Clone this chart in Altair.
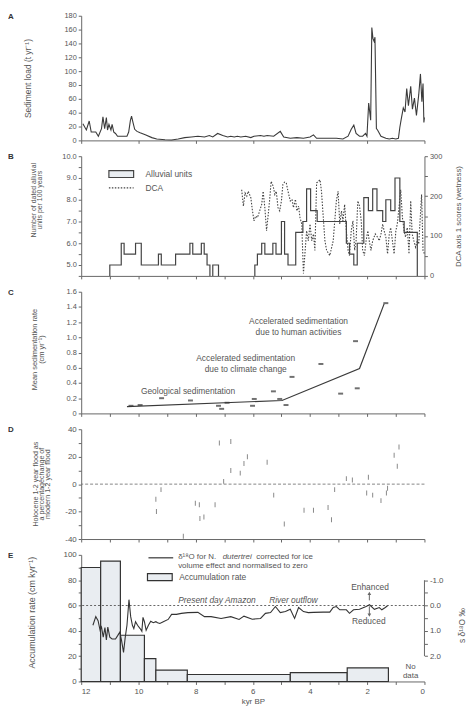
import altair as alt
import pandas as pd

# ---------------- Panel A: sediment load (t/yr) ----------------
sed_kyr = [11.94, 11.82, 11.72, 11.65, 11.49, 11.40, 11.29, 11.24, 11.18, 11.12,
           11.08, 11.03, 10.96, 10.92, 10.86, 10.80, 10.73, 10.57, 10.40, 10.34,
           10.28, 10.24, 10.19, 10.13, 10.05, 9.94, 9.76, 9.53, 9.36, 9.07,
           8.84, 8.61, 8.38, 8.15, 7.92, 7.69, 7.52, 7.40, 7.23, 7.05,
           6.88, 6.77, 6.65, 6.54, 6.42, 6.25, 6.07, 5.96, 5.73, 5.61,
           5.50, 5.27, 5.04, 4.92, 4.69, 4.46, 4.23, 4.00, 3.88, 3.77,
           3.54, 3.31, 3.08, 2.85, 2.67, 2.56, 2.47, 2.39, 2.27, 2.16,
           2.06, 2.01, 1.95, 1.88, 1.84, 1.80, 1.76, 1.73, 1.68, 1.64,
           1.52, 1.35, 1.23, 1.12, 1.00, 0.91, 0.86, 0.81, 0.74, 0.68,
           0.62, 0.56, 0.48, 0.42, 0.35, 0.28, 0.20, 0.14, 0.09, 0.05,
           0.02, 0.00]
sed_load = [24, 15, 28, 12, 12, 6, 17, 34, 17, 33,
            15, 23, 15, 23, 12, 10, 6, 6, 6, 12,
            29, 35, 26, 16, 13, 11, 8, 4, 2, 1,
            0.5, 2, 4, 5, 6, 5, 7, 5, 10, 7,
            5, 6, 5, 6, 5, 6, 4, 6, 7, 6,
            7, 6, 13, 5, 3, 4, 3, 5, 8, 3,
            3, 3, 3, 2, 6, 16, 22, 10, 6, 6,
            10, 6, 54, 29, 163, 147, 143, 149, 17, 15,
            6, 3, 2, 3, 2, 3, 19, 31, 47, 41,
            75, 50, 78, 45, 61, 36, 66, 96, 56, 82,
            26, 33]

# ---------------- Panel B: alluvial units per 100 yr (step blocks) + DCA ----------------
alluvial_edges = [
    [11.0, 10.6, 10.5, 10.1, 9.9, 9.3, 9.2, 8.7, 8.2, 8.1, 7.8, 7.7, 7.6, 7.5],
    [7.4, 7.2],
    [5.93, 5.84, 5.69, 5.58, 5.30, 5.19, 5.00, 4.89, 4.77, 4.50,
     4.25, 4.12, 3.98, 3.75, 2.73, 2.62, 2.47, 2.35, 2.12, 1.96,
     1.81, 1.66, 1.46, 1.35, 1.18, 1.03, 0.86, 0.71, 0.25],
]
alluvial_values = [
    [5.0, 6.0, 5.5, 6.0, 5.0, 5.5, 5.0, 5.5, 6.0, 5.5, 6.0, 5.5, 5.0],
    [5.0],
    [5.0, 5.5, 6.0, 5.5, 6.0, 5.5, 7.0, 5.5, 5.0, 6.5,
     7.0, 8.5, 7.5, 7.0, 6.0, 5.5, 5.0, 6.0, 8.1, 7.5,
     8.5, 7.5, 7.0, 8.0, 7.5, 9.0, 7.0, 6.5],
]
alluvial_base = 4.5

dca_kyr = [6.39, 6.33, 6.27, 6.21, 6.16, 6.07, 6.02, 5.96, 5.90, 5.84,
           5.76, 5.69, 5.64, 5.58, 5.52, 5.46, 5.41, 5.36, 5.29, 5.23,
           5.18, 5.12, 5.06, 5.00, 4.95, 4.89, 4.83, 4.77, 4.69, 4.63,
           4.58, 4.51, 4.46, 4.40, 4.35, 4.29, 4.23, 4.17, 4.12, 4.06,
           4.00, 3.94, 3.88, 3.83, 3.77, 3.71, 3.65, 3.60, 3.54, 3.48,
           3.42, 3.31, 3.19, 3.08, 3.02, 2.96, 2.90, 2.85, 2.79, 2.73,
           2.67, 2.62, 2.56, 2.50, 2.44, 2.39, 2.33, 2.27, 2.21, 2.16,
           2.10, 2.04, 1.98, 1.93, 1.87, 1.81, 1.72, 1.64, 1.58, 1.52,
           1.46, 1.41, 1.35, 1.29, 1.23, 1.18, 1.12, 1.06, 1.00, 0.95,
           0.89, 0.83, 0.77, 0.71, 0.66, 0.60, 0.54, 0.48, 0.43, 0.37,
           0.31, 0.25, 0.20, 0.10, 0.05, 0.00]
dca_score = [216, 175, 208, 200, 212, 196, 167, 138, 150, 146,
             163, 179, 212, 171, 113, 155, 192, 237, 225, 204,
             212, 171, 163, 188, 229, 235, 233, 212, 188, 192,
             171, 192, 163, 175, 146, 130, 6, 64, 113, 88,
             130, 88, 105, 64, 233, 237, 241, 212, 150, 88,
             64, 51, 88, 188, 212, 130, 163, 138, 179, 113,
             64, 51, 113, 138, 64, 88, 188, 175, 138, 64,
             51, 88, 113, 88, 64, 88, 105, 97, 88, 105,
             130, 113, 97, 55, 105, 121, 88, 55, 113, 130,
             171, 216, 146, 113, 97, 121, 55, 188, 105, 88,
             72, 88, 80, 204, 64, 55]

# ---------------- Panel C: mean sedimentation rate ----------------
trend_kyr = [10.40, 4.98, 2.27, 1.41]
trend_rate = [0.09, 0.17, 0.59, 1.44]
site_kyr = [10.26, 9.94, 9.19, 8.18, 7.20, 7.09, 6.90, 6.01, 5.95, 5.28,
            5.06, 4.84, 4.63, 3.62, 2.93, 2.41, 2.35, 1.35]
site_rate = [0.10, 0.11, 0.20, 0.17, 0.10, 0.06, 0.14, 0.10, 0.19, 0.29,
             0.19, 0.11, 0.48, 0.65, 0.26, 0.95, 0.33, 1.45]

# ---------------- Panel D: flood magnitude change (%) ----------------
flood_kyr = [9.39, 9.37, 9.21, 8.43, 8.01, 7.87, 7.85, 7.71, 7.32, 7.17,
             7.02, 6.77, 6.77, 6.44, 6.31, 6.19, 5.50, 5.27, 4.90, 4.21,
             3.88, 3.37, 3.25, 3.14, 2.73, 2.52, 2.02, 1.96, 1.81, 1.52,
             1.33, 1.29, 1.06, 0.95, 0.89]
flood_pct = [-11, -20, -4, -38, -14, -15, -25, -24, -15, 30,
             2, 10, 31, 8, 15, 20, 16, -8, -29, -19,
             -19, -17, -26, -4, 4, 3, -6.5, 5, -8, -12,
             -6.5, -3, 21, 13, 27]

# ---------------- Panel E: accumulation rate + d18O ----------------
acc_start = [12.0, 11.32, 10.63, 9.79, 9.39, 8.29, 4.69, 2.70]
acc_end = [11.32, 10.63, 9.79, 9.39, 8.29, 4.69, 2.70, 1.26]
acc_rate = [90, 95, 36.5, 18, 9, 5.5, 7, 10.7]

d18_kyr = [11.59, 11.49, 11.41, 11.34, 11.29, 11.23, 11.17, 11.12, 11.07, 11.00,
           10.92, 10.80, 10.72, 10.65, 10.59, 10.52, 10.46, 10.40, 10.33, 10.27,
           10.21, 10.16, 10.10, 10.03, 9.94, 9.88, 9.84, 9.79, 9.73, 9.65,
           9.57, 9.48, 9.39, 9.33, 9.25, 9.13, 8.96, 8.84, 8.67, 8.50,
           8.27, 7.92, 7.69, 7.46, 7.11, 6.77, 6.48, 6.31, 6.02, 5.73,
           5.56, 5.38, 5.21, 5.04, 4.86, 4.69, 4.54, 4.40, 4.23, 4.06,
           3.88, 3.54, 3.31, 3.19, 3.08, 2.96, 2.73, 2.62, 2.48, 2.27,
           2.04, 1.92, 1.75, 1.58, 1.49, 1.37, 1.29]
d18_val = [0.78, 0.44, 0.60, 0.98, 0.85, 1.25, 0.87, 1.36, 0.85, 1.25,
           1.32, 1.32, 1.18, 1.05, 1.38, 1.85, 1.25, 0.78, -0.23, 0.44,
           0.78, 0.91, 0.64, 0.78, 0.91, 1.02, 0.47, 0.64, 0.98, 0.78,
           0.62, 0.68, 0.64, 0.68, 0.71, 0.64, 0.55, 0.35, 0.35, 0.31,
           0.28, 0.27, 0.44, 0.44, 0.51, 0.44, 0.55, 0.42, 0.54, 0.51,
           0.31, 0.28, 0.04, 0.28, 0.24, 0.15, 0.51, 0.08, 0.24, 0.28,
           0.27, 0.26, 0.26, 0.08, 0.04, 0.17, 0.17, 0.31, 0.17, 0.15,
           0.04, -0.03, 0.15, 0.08, 0.17, 0.08, 0.01]

# ======================================================================
FONT = "Liberation Sans"
W = 347
INK = "#3a3a3a"
TXT = "#555555"
FILL = "#e9edf1"
XS = alt.Scale(domain=[0, 12], reverse=True, nice=False, zero=False)
one = pd.DataFrame({"t": [0]})


def note(text, x, y, size=8.5, align="left", color=TXT, style="normal", weight="normal"):
    return alt.Chart(one).mark_text(
        text=text, fontSize=size, align=align, baseline="middle", color=color,
        fontStyle=style, fontWeight=weight, font=FONT
    ).encode(x=alt.value(x), y=alt.value(y))


def letter(t):
    return note(t, -74, 1, size=8, color="#333333", weight="bold")


def xaxis(step, bottom=False):
    vals = list(range(0, 13, step))
    if bottom:
        return alt.Axis(values=vals, title="kyr BP",
                        labelExpr="datum.value % 2 == 0 ? '' + datum.value : ''",
                        labelFontSize=8, titleFontSize=8, labelPadding=3, titlePadding=2)
    return alt.Axis(values=vals, labels=False, title=None)


# ---------------- A ----------------
dfA = pd.DataFrame({"kyr": sed_kyr, "load": sed_load})
axA = alt.Axis(values=list(range(0, 181, 20)), title="Sediment load (t yr⁻¹)",
               titleFontSize=8.5, titleX=-54, titleY=63, titleBaseline="middle")
lineA = alt.Chart(dfA).mark_line(color=INK, strokeWidth=1.1).encode(
    x=alt.X("kyr:Q", scale=XS, axis=xaxis(2)),
    y=alt.Y("load:Q", scale=alt.Scale(domain=[0, 180], nice=False), axis=axA),
)
A = alt.layer(lineA, letter("A")).properties(width=W, height=126)

# ---------------- B ----------------
rows = []
for b, (edges, vals) in enumerate(zip(alluvial_edges, alluvial_values)):
    rows.append({"blk": b, "kyr": edges[0], "n": alluvial_base})
    for k, v in enumerate(vals):
        rows.append({"blk": b, "kyr": edges[k], "n": v})
        rows.append({"blk": b, "kyr": edges[k + 1], "n": v})
    rows.append({"blk": b, "kyr": edges[-1], "n": alluvial_base})
dfB = pd.DataFrame(rows)
dfB["o"] = range(len(dfB))

YB = alt.Scale(domain=[4.5, 10], nice=False, zero=False)
axB = alt.Axis(values=[4.5 + 0.5 * i for i in range(12)],
               labelExpr="datum.value % 1 == 0 ? datum.value + '.0' : ''",
               title=["Number of dated alluvial", "units per 100 years"],
               titleFontSize=7, titleLineHeight=6.5, titleX=-48.5, titleY=44,
               titleBaseline="middle")
xB = alt.X("kyr:Q", scale=XS, axis=xaxis(1))
areaB = alt.Chart(dfB).mark_area(color=FILL, opacity=1).encode(
    x=xB, y=alt.Y("n:Q", scale=YB, axis=axB), y2=alt.datum(alluvial_base),
    detail="blk:N", order="o:Q")
outlineB = alt.Chart(dfB).mark_line(color="#444444", strokeWidth=1.2).encode(
    x=xB, y=alt.Y("n:Q", scale=YB, axis=axB), detail="blk:N", order="o:Q")
leftB = alt.layer(areaB, outlineB)

dfDCA = pd.DataFrame({"kyr": dca_kyr, "dca": dca_score})
axBR = alt.Axis(orient="right", values=list(range(0, 301, 50)),
                labelExpr="datum.value % 100 == 0 ? '' + datum.value : ''",
                title="DCA axis 1 scores (wetness)", titleAngle=270, titleX=34.5,
                titleY=60.5, titleBaseline="middle", titleFontSize=8)
dcaB = alt.Chart(dfDCA).mark_line(color="#444444", strokeWidth=1.1, strokeDash=[1.5, 1.5]).encode(
    x=xB, y=alt.Y("dca:Q", scale=alt.Scale(domain=[0, 300], nice=False), axis=axBR))

boxB = alt.Chart(one).mark_rect(fill=FILL, stroke="#444444", strokeWidth=1.2).encode(
    x=alt.value(28), x2=alt.value(53), y=alt.value(14.5), y2=alt.value(21.5))
dotB = alt.Chart(one).mark_rule(color="#444444", strokeWidth=1.1, strokeDash=[1.5, 1.5]).encode(
    x=alt.value(28), x2=alt.value(53), y=alt.value(32))
B = alt.layer(leftB, dcaB, boxB, dotB, note("Alluvial units", 65, 18), note("DCA", 65, 32),
              letter("B")).resolve_scale(y="independent").properties(width=W, height=121)

# ---------------- C ----------------
dfCt = pd.DataFrame({"kyr": trend_kyr, "rate": trend_rate})
dfCs = pd.DataFrame({"kyr": site_kyr, "rate": site_rate})
YC = alt.Scale(domain=[0, 1.6], nice=False)
axC = alt.Axis(values=[round(0.2 * i, 1) for i in range(9)],
               labelExpr="datum.value == 0 ? '0' : format(datum.value, '.1f')",
               title=["Mean sedimentation rate", "(cm yr⁻¹)"], titleFontSize=7.5,
               titleLineHeight=6.5, titleX=-47, titleY=58, titleBaseline="middle")
xC = alt.X("kyr:Q", scale=XS, axis=xaxis(1))
lineC = alt.Chart(dfCt).mark_line(color=INK, strokeWidth=1.2).encode(
    x=xC, y=alt.Y("rate:Q", scale=YC, axis=axC))
dashC = alt.Chart(dfCs).mark_tick(orient="horizontal", size=5, thickness=2, color="#333333").encode(
    x=xC, y=alt.Y("rate:Q", scale=YC, axis=axC))
C = alt.layer(
    lineC, dashC,
    note("Accelerated sedimentation", 219.7, 30, align="center"),
    note("due to human activities", 219.7, 40.6, align="center"),
    note("Accelerated sedimentation", 166.3, 67.3, align="center"),
    note("due to climate change", 166.3, 78.3, align="center"),
    note("Geological sedimentation", 108, 100, align="center"),
    letter("C"),
).properties(width=W, height=123)

# ---------------- D ----------------
dfD = pd.DataFrame({"kyr": flood_kyr, "pct": flood_pct})
YD = alt.Scale(domain=[-40, 40], nice=False)
axD = alt.Axis(values=list(range(-40, 41, 10)),
               labelExpr="datum.value % 20 == 0 ? '' + datum.value : ''", labelFontSize=8,
               title=["Holocene 1-2 year flood as", "a percentagechange of", "modern 1-2 year flood"],
               titleFontSize=7.2, titleLineHeight=6.2, titleX=-46, titleY=55,
               titleBaseline="middle")
zeroD = alt.Chart(one).mark_rule(color="#777777", strokeDash=[3, 2], strokeWidth=0.9).encode(
    y=alt.Y(datum=0, scale=YD, axis=axD))
tickD = alt.Chart(dfD).mark_tick(orient="vertical", size=5, thickness=1, color="#555555").encode(
    x=alt.X("kyr:Q", scale=XS, axis=xaxis(1)), y=alt.Y("pct:Q", scale=YD, axis=axD))
D = alt.layer(zeroD, tickD, letter("D")).properties(width=W, height=111)

# ---------------- E ----------------
dfE = pd.DataFrame({"start": acc_start, "end": acc_end, "rate": acc_rate})
dfO = pd.DataFrame({"kyr": d18_kyr, "d18o": d18_val})
YE = alt.Scale(domain=[0, 100], nice=False)
axE = alt.Axis(values=list(range(0, 101, 10)),
               labelExpr="datum.value % 20 == 0 ? '' + datum.value : ''", labelFontSize=8,
               title="Accumulation rate (cm kyr⁻¹)", titleFontSize=9, titleX=-50.5, titleY=58,
               titleBaseline="middle")
xE = xaxis(1, True)
barsE = alt.Chart(dfE).mark_rect(fill=FILL, stroke="#333333", strokeWidth=1.2).encode(
    x=alt.X("start:Q", scale=XS, axis=xE), x2="end:Q",
    y=alt.Y("rate:Q", scale=YE, axis=axE), y2=alt.datum(0))

RS = alt.Scale(domain=[-2, 3], reverse=True, nice=False, zero=False)
axER = alt.Axis(orient="right", domain=False, values=[-1, -0.5, 0, 0.5, 1, 1.5, 2],
                labelExpr="datum.value % 1 == 0 ? datum.value + '.0' : ''", labelFontSize=8,
                title="s δ¹⁸O ‰", titleAngle=270, titleX=37, titleY=71,
                titleBaseline="middle", titleFontSize=8.5)
presentE = alt.Chart(one).mark_rule(color="#555555", strokeDash=[2, 2], strokeWidth=0.9).encode(
    y=alt.Y(datum=0, scale=RS, axis=axER))
d18E = alt.Chart(dfO).mark_line(color="#333333", strokeWidth=1.1).encode(
    x=alt.X("kyr:Q", scale=XS, axis=xE), y=alt.Y("d18o:Q", scale=RS, axis=axER))
raxE = alt.Chart(one).mark_rule(color="#666666").encode(
    x=alt.value(W), y=alt.Y(datum=-1, scale=RS, axis=axER), y2=alt.datum(2))
rightE = alt.layer(presentE, d18E, raxE)

legLine = alt.Chart(one).mark_rule(color="#333333", strokeWidth=1.2).encode(
    x=alt.value(68), x2=alt.value(93), y=alt.value(3))
legBox = alt.Chart(one).mark_rect(fill=FILL, stroke="#333333", strokeWidth=1.2).encode(
    x=alt.value(67), x2=alt.value(92), y=alt.value(19), y2=alt.value(26))
arrUp = alt.Chart(one).mark_rule(color="#666666").encode(
    x=alt.value(291.3), y=alt.value(46), y2=alt.value(39.5))
arrUpH = alt.Chart(one).mark_point(shape="triangle-up", filled=True, size=14, color="#666666", opacity=1).encode(
    x=alt.value(291.3), y=alt.value(39))
arrDn = alt.Chart(one).mark_rule(color="#666666").encode(
    x=alt.value(291.3), y=alt.value(52), y2=alt.value(60.5))
arrDnH = alt.Chart(one).mark_point(shape="triangle-down", filled=True, size=14, color="#666666", opacity=1).encode(
    x=alt.value(291.3), y=alt.value(61))

E = alt.layer(
    barsE, rightE, legLine, legBox,
    note("δ¹⁸O for N.", 98, 2.5, size=8),
    note("dutertrei", 143, 2.5, size=8, style="italic"),
    note("corrected for ice", 177, 2.5, size=8),
    note("volume effect and normalised to zero", 98, 10.8, size=8),
    note("Accumulation rate", 99, 22.5),
    note("Present day Amazon", 98, 45.7, style="italic"),
    note("River outflow", 190, 45.7, style="italic"),
    note("Enhanced", 292, 32.4, align="center"),
    note("Reduced", 290.7, 67.4, align="center"),
    arrUp, arrUpH, arrDn, arrDnH,
    note("No", 333, 113.8, size=8, align="center"),
    note("data", 333, 122.6, size=8, align="center"),
    letter("E"),
).resolve_scale(y="independent").properties(width=W, height=128)

chart = alt.vconcat(A, B, C, D, E, spacing=8).properties(padding=0).configure(
    font=FONT
).configure_view(stroke=None).configure_axis(
    domainColor="#666666", tickColor="#666666", labelColor=TXT, titleColor=TXT,
    labelFontSize=7.5, titleFontSize=7.5, titleFontWeight="normal", tickSize=3,
    labelPadding=2, grid=False, labelFont=FONT, titleFont=FONT, labelOverlap=False,
    domainWidth=1, tickWidth=1,
)

chart.save("out.html", embed_options={"renderer": "svg", "actions": False})
